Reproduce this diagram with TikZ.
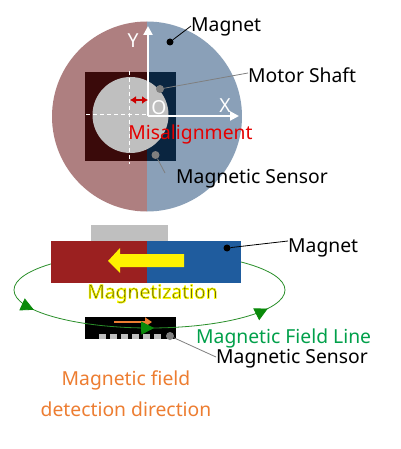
\documentclass[tikz,border=0pt]{standalone}
\usepackage{fontspec}
\setmainfont{Noto Sans}
\usetikzlibrary{arrows.meta,decorations.markings}
\definecolor{poleRedSoft}{HTML}{AE7F80}
\definecolor{poleBlueSoft}{HTML}{8AA0B8}
\definecolor{poleRedDark}{HTML}{3A0A0A}
\definecolor{poleBlueDark}{HTML}{0A2540}
\definecolor{poleRed}{HTML}{9B2020}
\definecolor{poleBlue}{HTML}{1F5C9E}
\definecolor{shaftGray}{HTML}{BFBFBF}
\definecolor{fieldGreen}{HTML}{2A8F2A}
\definecolor{fieldHead}{HTML}{0A8A0A}
\definecolor{fieldText}{HTML}{00A04A}
\definecolor{senseOrange}{HTML}{ED7D31}
\definecolor{markGray}{HTML}{7F7F7F}
\definecolor{coreOlive}{HTML}{5A5A08}
\newcommand{\haloed}[1]{\special{pdf:code 2 Tr 0.7 w 1 1 0 RG}#1\special{pdf:code 0 Tr}}
\tikzset{
  x=1pt,y=-1pt,
  lbl/.style={inner sep=0pt,font=\fontsize{19.3}{21}\selectfont,text height=13pt,text depth=1pt},
  dot/.style={circle,inner sep=0pt,minimum size=#1},
  axis/.style={white,line width=2.2pt,-{Triangle[length=9pt,width=9pt]}},
  guide/.style={white,line width=1pt,dash pattern=on 4pt off 3pt},
  leader/.style={line width=0.8pt},
  pin/.style={fill=shaftGray,draw=none},
}
\begin{document}
\begin{tikzpicture}
\useasboundingbox[fill=white] (0,0) rectangle (400,449);

% end view of the magnet, shaft and sensor
\begin{scope}
  \clip (147,116.5) circle[radius=95];
  \fill[poleRedSoft] (52,21) rectangle (147,212);
  \fill[poleBlueSoft] (147,21) rectangle (243,212);
\end{scope}
\fill[poleRedDark] (85,72) rectangle (147,161);
\fill[poleBlueDark] (147,72) rectangle (176,161);
\fill[shaftGray] (130.5,115) circle[radius=38];
\draw[guide] (129.5,71) -- (129.5,164);
\draw[guide] (86,115) -- (147,115);

\node[dot=7pt,fill=black] (magdot) at (170,42) {};
\node[dot=8pt,fill=markGray] (shaftdot) at (160,89) {};
\node[dot=8pt,fill=markGray] (sensordot) at (155.5,155) {};

\coordinate (origin) at (148,116);
\coordinate (yend) at (148,26);
\coordinate (xend) at (239,116);
\draw[axis] (origin) -- (yend);
\draw[axis] (origin) -- (xend);
\node[lbl,white,anchor=center] (ylabel) at (133,42) {Y};
\node[lbl,white,anchor=center] (xlabel) at (225,107) {X};
\node[lbl,white,anchor=center] (olabel) at (159,109) {O};

\coordinate (misL) at (130,100);
\coordinate (misR) at (148,100);
\draw[{Latex[length=6pt,width=8pt]}-{Latex[length=6pt,width=8pt]},line width=1.4pt,red!80!black] (misL) -- (misR);
\node[lbl,red!90!black] (mis) at (190.5,134) {Misalignment};

\node[lbl,anchor=west] (magtop) at (191,26) {Magnet};
\node[lbl,anchor=west] (shafttxt) at (248,77) {Motor Shaft};
\node[lbl,anchor=west] (sensortop) at (176,177) {Magnetic Sensor};
\draw[leader,black] (magdot) -- (magtop.west);
\draw[leader,markGray] (shaftdot) -- ([yshift=4pt]shafttxt.west);
\coordinate (sensortip) at (165,173);
\draw[leader,markGray] (sensordot) -- (sensortip);

% sensor chip with its pins
\fill[black] (85,317) rectangle (176,339);
\foreach \px in {99,110,121,132,143,154}
  \fill[pin] (\px,334) rectangle ++(7,5);
\coordinate (sensein) at (114,322);
\coordinate (senseout) at (152,322);
\draw[senseOrange,line width=2.5pt,-{Triangle[length=7pt,width=9pt]}] (sensein) -- (senseout);

% field line loop: passes over the chip and behind the magnet
\draw[fieldGreen,line width=0.8pt,
  postaction={decorate,decoration={markings,
    mark=at position 0.05 with {\arrow[fieldHead]{Triangle[length=13pt,width=13pt]}},
    mark=at position 0.258 with {\arrow[fieldHead]{Triangle[length=13pt,width=13pt]}},
    mark=at position 0.455 with {\arrow[fieldHead]{Triangle[length=13pt,width=13pt]}}}}]
  (14,290) arc[start angle=180,delta angle=360,x radius=135.5,y radius=-38];

% side view of the magnet
\fill[shaftGray] (91,225) rectangle (168,242);
\fill[poleRed] (51,241) rectangle (147,283);
\fill[poleBlue] (147,241) rectangle (241,283);
\fill[yellow] (184,254) -- (120,254) -- (120,248) -- (108,261) -- (120,273) -- (120,267) -- (184,267) -- cycle;

\node[dot=7pt,fill=black] (magdot2) at (227,248) {};
\node[lbl,anchor=west] (magside) at (288,246) {Magnet};
\draw[leader,black] (magdot2) -- ([yshift=5pt]magside.west);

\node[lbl,coreOlive] (magnetization) at (152.5,292.5) {\haloed{Magnetization}};

\node[dot=8pt,fill=markGray] (chipdot) at (170,336) {};
\node[lbl,fieldText,anchor=west] (fieldtxt) at (196,337) {Magnetic Field Line};
\node[lbl,anchor=west] (sensorside) at (216,357) {Magnetic Sensor};
\draw[leader,markGray] (chipdot) -- (sensorside.west);

\node[lbl,senseOrange] (detA) at (126,379) {Magnetic field};
\node[lbl,senseOrange] (detB) at (126,410) {detection direction};
\end{tikzpicture}
\end{document}
